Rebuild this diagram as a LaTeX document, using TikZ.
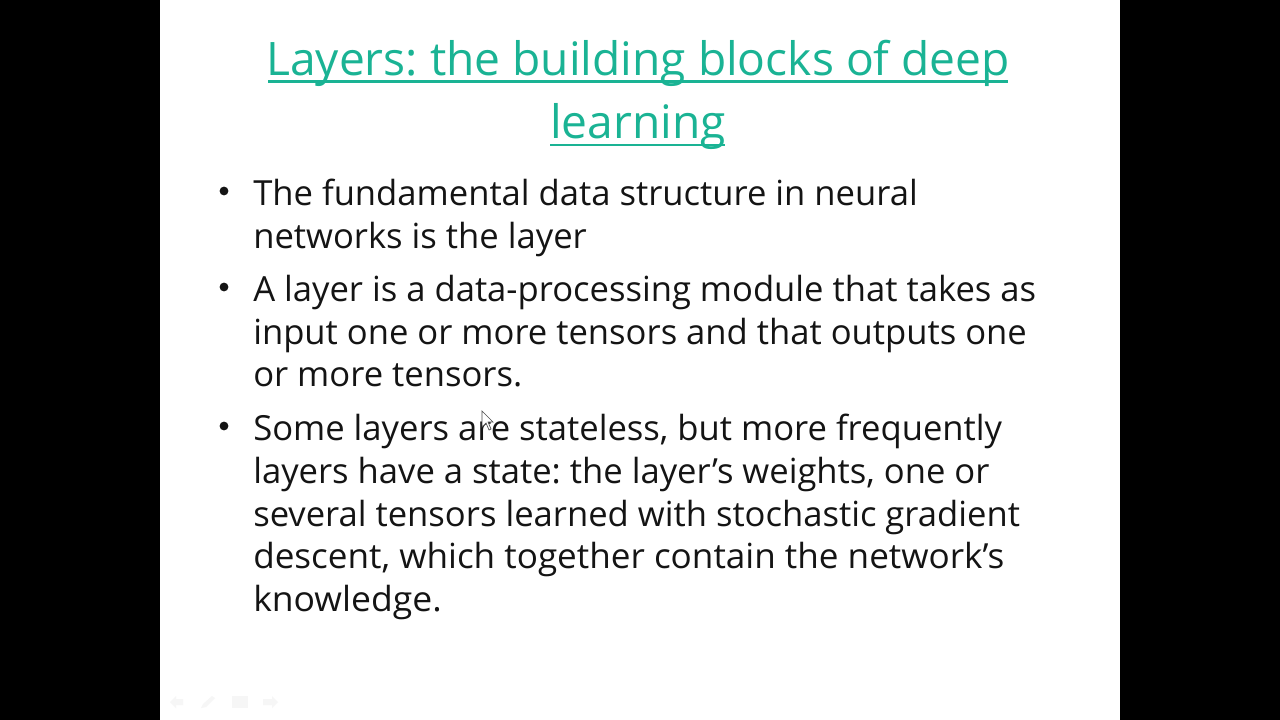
\documentclass[tikz,border=0pt]{standalone}
\usepackage{graphicx}
\usepackage{fontspec}
\setmainfont{Open Sans}
\newfontfamily\titlefont{Open Sans}
\definecolor{titleteal}{RGB}{26,179,148}
\definecolor{bodyink}{RGB}{20,20,20}
\definecolor{navgrey}{RGB}{246,246,246}
\newcommand{\bodyfs}{\fontsize{25.95pt}{32pt}\selectfont}
\tikzset{
  titleline/.style={anchor=base,inner sep=0,text=titleteal,font=\titlefont\fontsize{34.6pt}{44pt}\selectfont},
  bodyline/.style={anchor=base west,inner sep=0,text=bodyink,font=\bodyfs},
  bul/.style={circle,fill=bodyink,inner sep=0,minimum size=6.6pt},
  navicon/.style={fill=navgrey,draw=none}
}
\frenchspacing
\begin{document}
\begin{tikzpicture}[x=0.75pt,y=-0.75pt]
\useasboundingbox (0,0) rectangle (1280,720);
\fill[black] (0,0) rectangle (1280,720);
\fill[white] (160,0) rectangle (1120,720);
\node[titleline] (t1) at (638,76) {Layers: the building blocks of deep};
\node[titleline] (t2) at (638,139) {learning};
\draw[titleteal,line width=1.9pt] (268,81.7) -- (1008,81.7);
\draw[titleteal,line width=1.9pt] (550,145) -- (725,145);
\node[bul] (b1) at (224,191) {};
\node[bul] (b2) at (224,287) {};
\node[bul] (b3) at (224,426) {};
\node[bodyline] (l1) at (253,205.5) {The fundamental data structure in neural};
\node[bodyline] (l2) at (253,248) {networks is the layer};
\node[bodyline] (l3) at (253,301.5) {A layer is a data-processing module that takes as};
\node[bodyline] (l4) at (253,344) {input one or more tensors and that outputs one};
\node[bodyline] (l5) at (253,386.5) {or more tensors.};
\node[bodyline] (l6) at (253,440.5) {Some layers are stateless, but more frequently};
\node[bodyline] (l7) at (253,483) {layers have a state: the layer’s weights, one or};
\node[bodyline] (l8) at (253,526) {several tensors learned with stochastic gradient};
\node[bodyline] (l9) at (253,568.5) {\scalebox{1.0146}[1]{descent, which together contain the network’s}};
\node[bodyline] (l10) at (253,611.5) {\scalebox{1.027}[1]{knowledge.}};
% pointer
\draw[fill=white,draw=black!70,line width=0.5pt] (482,411) -- (482,427) -- (486,423) -- (489,430) -- (491,429) -- (488,422) -- (493,422) -- cycle;
% slide navigation icons
\fill[navicon] (170,702) -- (176,696) -- (176,699) -- (183,699) -- (183,705) -- (176,705) -- (176,708) -- cycle;
\fill[navicon] (201,708) -- (203,704) -- (212,696) -- (215,698) -- (206,707) -- cycle;
\fill[navicon] (232,696) rectangle (248,708);
\fill[navicon] (278,702) -- (272,696) -- (272,699) -- (263,699) -- (263,705) -- (272,705) -- (272,708) -- cycle;
\end{tikzpicture}
\end{document}
